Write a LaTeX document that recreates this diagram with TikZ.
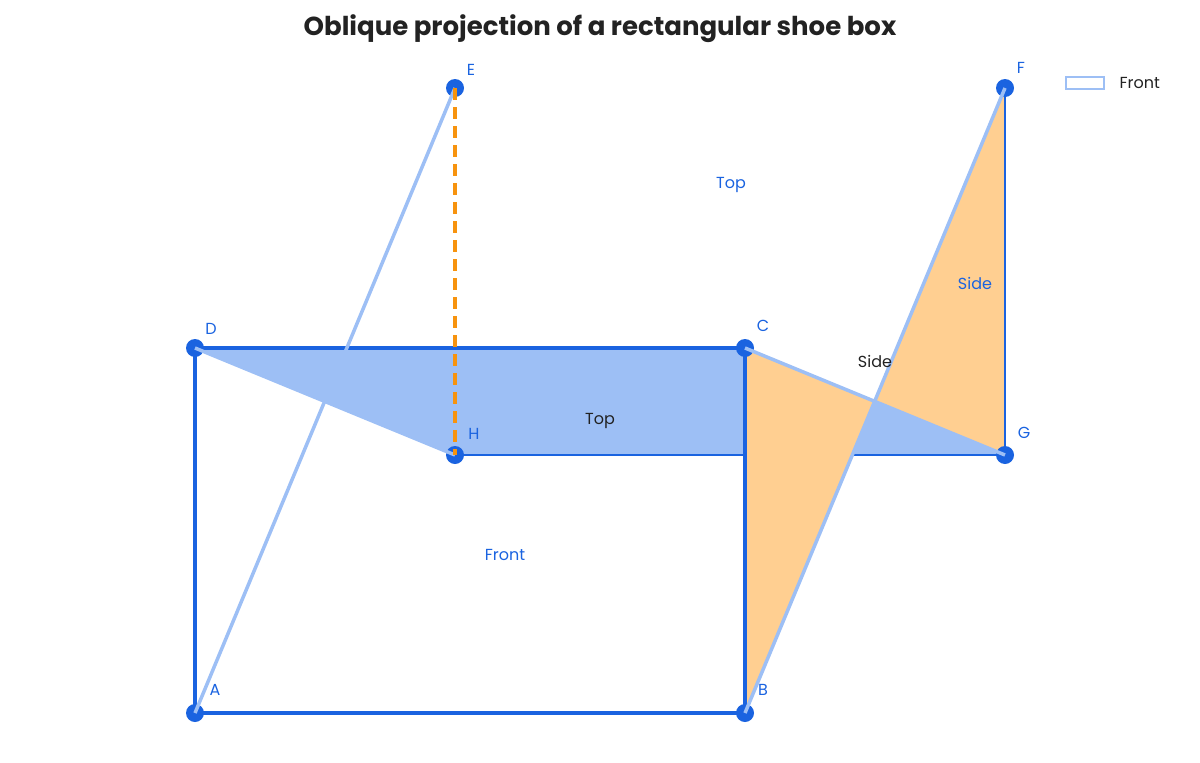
\documentclass[tikz,border=0pt]{standalone}
\usepackage{fontspec}
\setmainfont{Poppins}
\definecolor{dblue}{HTML}{1A63E0}
\definecolor{lblue}{HTML}{9DBFF5}
\definecolor{fillblue}{HTML}{9DBFF5}
\definecolor{orng}{HTML}{FFCF91}
\definecolor{dorng}{HTML}{F7930E}
\definecolor{txt}{HTML}{222222}
\begin{document}
\begin{tikzpicture}[x=1pt,y=-1pt,
  lbl/.style={text=dblue,font=\fontsize{16}{18}\selectfont},
  dlbl/.style={text=txt,font=\fontsize{16}{18}\selectfont},
  dot/.style={circle,fill=dblue,inner sep=0pt,minimum size=18pt},
  thick edge/.style={draw=dblue,line width=3.5pt},
  light edge/.style={draw=lblue,line width=3.5pt}]
\useasboundingbox (0,0) rectangle (1200,763);
\coordinate (A) at (195,713); \coordinate (B) at (745,713);
\coordinate (C) at (745,348); \coordinate (D) at (195,348);
\coordinate (E) at (455,88);  \coordinate (F) at (1005,88);
\coordinate (G) at (1005,455); \coordinate (H) at (455,455);
\node[font=\bfseries\fontsize{26}{30}\selectfont,text=txt] (title) at (600,29) {Oblique projection of a rectangular shoe box};
% top face
\fill[fillblue] (D) -- (C) -- (G) -- (H) -- cycle;
\draw[dblue,line width=1.5pt] (H) -- (G) (745,348) -- (745,455);
% side face (self-intersecting)
\fill[orng] (C) -- (B) -- (F) -- (G) -- cycle;
\draw[dblue,line width=1.5pt] (F) -- (G);
% front
\draw[thick edge] (A) -- (B) -- (C) -- (D) -- cycle;
\foreach \p in {A,B,C,D,E,F,G,H} \node[dot] (d\p) at (\p) {};
% receding edges
\draw[light edge] (A) -- (E);
\draw[light edge] (B) -- (F);
\draw[light edge] (D) -- (H);
\draw[light edge] (C) -- (G);
\draw[dorng,line width=3.5pt,dash pattern=on 12pt off 7pt] (E) -- (H);
\node[lbl] (lA) at (215,690) {A}; \node[lbl] (lB) at (763,690) {B};
\node[lbl] (lC) at (763,326) {C}; \node[lbl] (lD) at (211,329) {D};
\node[lbl] (lE) at (471,70) {E}; \node[lbl] (lF) at (1021,68) {F};
\node[lbl] (lG) at (1024,433) {G}; \node[lbl] (lH) at (474,434) {H};
\node[lbl] (t1) at (731,185) {Top};
\node[lbl] (fr) at (505,555) {Front};
\node[lbl] (s1) at (975,283) {Side};
\node[dlbl] (t2) at (600,421) {Top};
\node[dlbl] (s2) at (875,361) {Side};
\draw[lblue,line width=1.5pt] (1066,77) rectangle (1104,89);
\node[dlbl,anchor=west] (leg) at (1116,83) {Front};
\end{tikzpicture}
\end{document}
